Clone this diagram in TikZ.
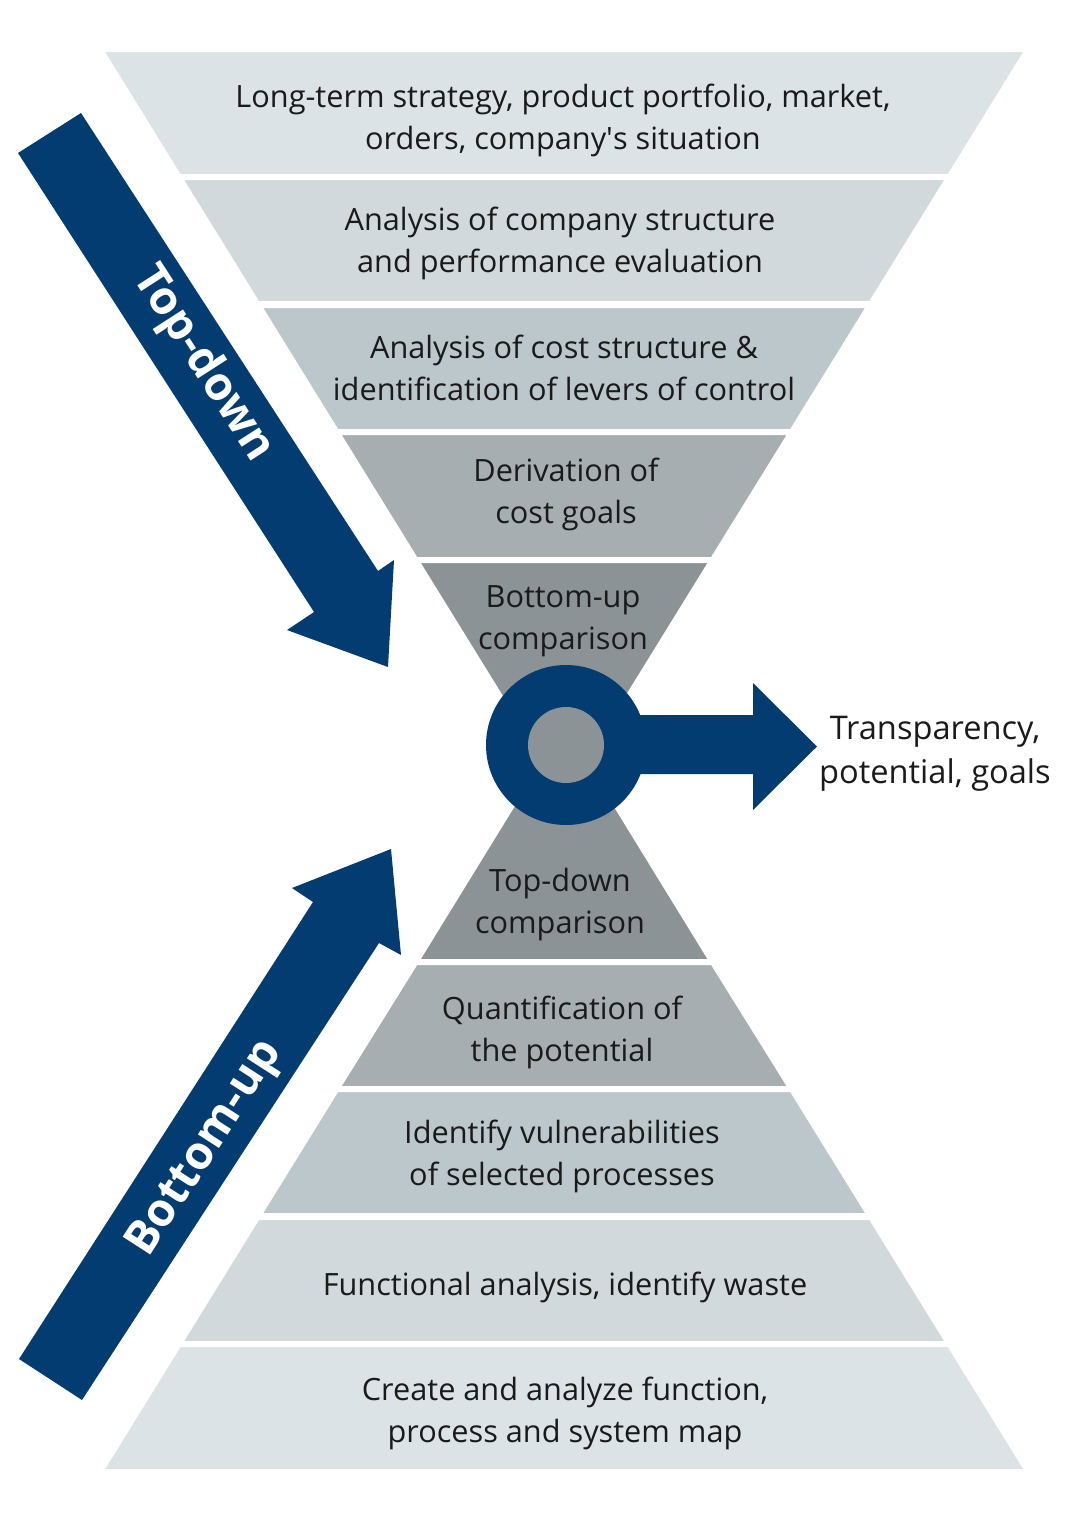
\documentclass[tikz,border=0pt]{standalone}
\usepackage{fontspec}
\setmainfont{Open Sans}
\usepackage{tikz}
\usetikzlibrary{calc}
\usepackage{xcolor}
\definecolor{navy}{HTML}{033C71}
\definecolor{lvla}{HTML}{DCE3E6}
\definecolor{lvlb}{HTML}{D1D9DC}
\definecolor{lvlc}{HTML}{BCC7CB}
\definecolor{lvld}{HTML}{A6AEB1}
\definecolor{lvle}{HTML}{8B9396}
\definecolor{ink}{HTML}{1A1A1A}

\begin{document}
\begin{tikzpicture}[x=0.5pt, y=-0.5pt,
    band/.style={draw=white, line width=1pt},
    txt/.style={font=\fontsize{15.35}{21}\selectfont, align=center, text=ink},
    lbl/.style={font=\fontsize{23}{27}\selectfont\bfseries, text=white}]
  \useasboundingbox (0,0) rectangle (1080,1517);
  % 上半部分（漏斗）
  \fill[band, fill=lvla] (103.3,51) -- (1025,51) -- (948.4,175) -- (179.9,175) -- cycle;
  \fill[band, fill=lvlb] (182.4,179) -- (945.9,179) -- (869.9,302) -- (258.4,302) -- cycle;
  \fill[band, fill=lvlc] (261.5,307) -- (866.8,307) -- (790.8,430) -- (337.5,430) -- cycle;
  \fill[band, fill=lvld] (340.0,434) -- (788.3,434) -- (711.7,558) -- (416.6,558) -- cycle;
  \fill[band, fill=lvle] (419.1,562) -- (709.2,562) -- (564.2,797) -- cycle;
  % 下半部分（金字塔）
  \fill[band, fill=lvle] (564.2,724) -- (709.2,960) -- (419.1,960) -- cycle;
  \fill[band, fill=lvld] (416.6,964) -- (711.7,964) -- (788.3,1087) -- (340.0,1087) -- cycle;
  \fill[band, fill=lvlc] (337.5,1091) -- (790.8,1091) -- (866.8,1214) -- (261.5,1214) -- cycle;
  \fill[band, fill=lvlb] (258.4,1219) -- (869.9,1219) -- (945.9,1342) -- (182.4,1342) -- cycle;
  \fill[band, fill=lvla] (179.9,1346) -- (948.4,1346) -- (1025,1470) -- (103.3,1470) -- cycle;
  % 各层文字
  \node[txt] (strat) at (563,120) {Long-term strategy, product portfolio, market,\\orders, company\textquotesingle s situation};
  \node[txt] (struct) at (560,243) {Analysis of company structure\\and performance evaluation};
  \node[txt] (costs) at (564,368) {Analysis of cost structure \&\\identification of levers of control};
  \node[txt] (goals) at (566,494) {Derivation of\\cost goals};
  \node[txt] (bucmp) at (563,621) {Bottom-up\\comparison};
  \node[txt] (tdcmp) at (560,905) {Top-down\\comparison};
  \node[txt] (quant) at (562,1032) {Quantification of\\the potential};
  \node[txt] (vuln) at (562,1156) {Identify vulnerabilities\\of selected processes};
  \node[txt] (waste) at (565,1287) {Functional analysis, identify waste};
  \node[txt] (fmap) at (565,1413) {Create and analyze function,\\process and system map};
  % 箭头：Top-down / Bottom-up
  \fill[navy] (18,153) -- (81,113) -- (378,571) -- (394,560) -- (388,667) -- (287,630) -- (314,612) -- cycle;
  \node[lbl, rotate=-57.2] (tdlbl) at (203,364) {Top-down};
  \fill[navy] (19,1359) -- (313,902) -- (292,888) -- (391,849) -- (401,955) -- (379,943) -- (82,1400) -- cycle;
  \node[lbl, rotate=57.2] (bulbl) at (206,1149) {Bottom-up};
  % 中心圆与输出箭头
  \fill[navy] (566,715) -- (753,715) -- (753,683) -- (817,746.5) -- (753,810) -- (753,774) -- (566,774) -- cycle;
  \fill[navy] (566,745) circle (80);
  \fill[lvle] (566,745) circle (38);
  \node[txt, font=\fontsize{16.3}{22}\selectfont] (result) at (935,754) {Transparency,\\potential, goals};
\end{tikzpicture}
\end{document}
